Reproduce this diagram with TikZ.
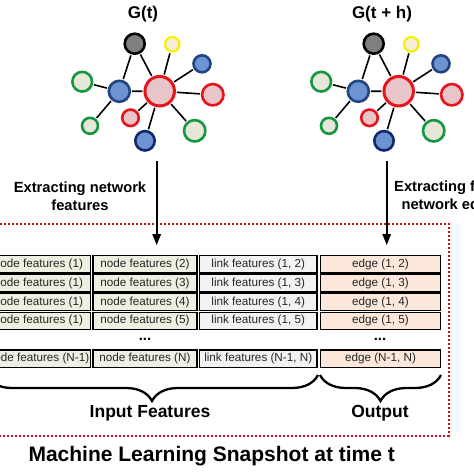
\documentclass[tikz,border=0pt]{standalone}
\usepackage{fontspec}
\setmainfont{Liberation Sans}
\usetikzlibrary{arrows.meta,decorations.pathreplacing}
\definecolor{cgray}{HTML}{7F7F7F}
\definecolor{cyel}{HTML}{F5F000}
\definecolor{cyelfill}{HTML}{F4EEDB}
\definecolor{cblue}{HTML}{6D93D3}
\definecolor{cblueb}{HTML}{23457F}
\definecolor{cnavy}{HTML}{10296A}
\definecolor{cgreen}{HTML}{14973F}
\definecolor{cgreenfill}{HTML}{E6E7D9}
\definecolor{cred}{HTML}{E8141C}
\definecolor{credfill}{HTML}{E8C5C9}
\definecolor{cnodecell}{HTML}{EDF0E1}
\definecolor{clinkcell}{HTML}{F2F2F2}
\definecolor{cedgecell}{HTML}{FBE8DB}
\definecolor{ctext}{HTML}{262626}
\definecolor{cdot}{HTML}{CC1019}
\tikzset{
  gnode/.style={circle, line width=2.6pt, inner sep=0pt, minimum size=#1},
  bnode/.style={gnode=#1, fill=cblue, draw=cblueb},
  grnode/.style={gnode=#1, fill=cgreenfill, draw=cgreen},
  rnode/.style={gnode=#1, fill=credfill, draw=cred},
  edgeline/.style={line width=1.6pt, black, shorten <=1pt, shorten >=1pt},
  cell/.style={draw=black, line width=1.4pt, inner sep=0pt, minimum height=17.4pt,
    font=\fontsize{11.7}{12}\selectfont, text=ctext},
  ncell/.style={cell, fill=cnodecell},
  lcell/.style={cell, fill=clinkcell},
  ecell/.style={cell, fill=cedgecell},
  wa/.style={minimum width=103.6pt},
  wb/.style={minimum width=103.8pt},
  wc/.style={minimum width=117.1pt},
  wd/.style={minimum width=119.6pt},
  bigarrow/.style={line width=1.6pt, -{Triangle[width=8.5pt,length=11pt]}},
  bracestyle/.style={line width=2.3pt, decorate, decoration={brace, amplitude=26pt}},
  boldlabel/.style={font=\fontsize{14.7}{18}\selectfont\bfseries, align=center},
  titlelabel/.style={font=\fontsize{17}{20}\selectfont\bfseries},
  dotslabel/.style={font=\fontsize{15}{15}\selectfont\bfseries},
}
\newcommand\mygraph[1]{%
  \node[gnode=20, fill=cgray, draw=black] (#1g) at (134.7,43.7) {};
  \node[gnode=14.5, fill=cyelfill, draw=cyel, line width=2.2pt] (#1y) at (172.3,44.3) {};
  \node[bnode=17] (#1btr) at (202,63.8) {};
  \node[grnode=19.7] (#1gl) at (82.2,81.7) {};
  \node[bnode=21] (#1bm) at (119.3,91.3) {};
  \node[rnode=29.5, line width=3pt] (#1rc) at (159.7,91.2) {};
  \node[rnode=21.4] (#1rr) at (212.8,94.7) {};
  \node[rnode=16.5] (#1rs) at (130.5,117.8) {};
  \node[grnode=16] (#1gs) at (90,125.8) {};
  \node[grnode=21.4] (#1gbr) at (194.7,130.8) {};
  \node[bnode=19.4, draw=cnavy] (#1bb) at (145,140.8) {};
  \draw[edgeline] (#1g) -- (#1bm);
  \draw[edgeline] (#1g) -- (#1rc);
  \draw[edgeline] (#1y) -- (#1rc);
  \draw[edgeline] (#1btr) -- (#1rc);
  \draw[edgeline] (#1rr) -- (#1rc);
  \draw[edgeline] (#1gbr) -- (#1rc);
  \draw[edgeline] (#1bb) -- (#1rc);
  \draw[edgeline] (#1rs) -- (#1rc);
  \draw[edgeline] (#1bm) -- (#1rc);
  \draw[edgeline] (#1gl) -- (#1bm);
  \draw[edgeline] (#1gs) -- (#1bm);
}
\begin{document}
\begin{tikzpicture}[x=1pt,y=-1pt]
\useasboundingbox (0,0) rectangle (474,474);
\fill[white] (0,0) rectangle (474,474);
\clip (0,0) rectangle (474,474);

% titles
\node[titlelabel] (t1) at (143,14) {G(t)};
\node[titlelabel] (t2) at (382,14) {G(t + h)};

% graphs
\mygraph{a}
\begin{scope}[xshift=239pt]
\mygraph{b}
\end{scope}

% red dotted box
\draw[cdot, line width=2pt, dash pattern=on 2.4pt off 1.6pt] (-5,223.5) rectangle (448.5,435.5);

% labels
\node[boldlabel] (l1) at (80,196) {Extracting network\\features};
\node[boldlabel] (l2) at (453,197) {Extracting future\\network edges};

% table rows
\node[ncell, wa] (r1c1) at (38.5,264.2) {node features (1)};
\node[ncell, wb] (r1c2) at (144.9,264.2) {node features (2)};
\node[lcell, wc] (r1c3) at (258.25,264.2) {link features (1, 2)};
\node[ecell, wd] (r1c4) at (380.5,264.2) {edge (1, 2)};

\node[ncell, wa] (r2c1) at (38.5,283.1) {node features (1)};
\node[ncell, wb] (r2c2) at (144.9,283.1) {node features (3)};
\node[lcell, wc] (r2c3) at (258.25,283.1) {link features (1, 3)};
\node[ecell, wd] (r2c4) at (380.5,283.1) {edge (1, 3)};

\node[ncell, wa] (r3c1) at (38.5,302) {node features (1)};
\node[ncell, wb] (r3c2) at (144.9,302) {node features (4)};
\node[lcell, wc] (r3c3) at (258.25,302) {link features (1, 4)};
\node[ecell, wd] (r3c4) at (380.5,302) {edge (1, 4)};

\node[ncell, wa] (r4c1) at (38.5,320.9) {node features (1)};
\node[ncell, wb] (r4c2) at (144.9,320.9) {node features (5)};
\node[lcell, wc] (r4c3) at (258.25,320.9) {link features (1, 5)};
\node[ecell, wd] (r4c4) at (380.5,320.9) {edge (1, 5)};

\node[dotslabel] (d1) at (145,339) {...};
\node[dotslabel] (d2) at (380,339) {...};

\node[ncell, wa] (r5c1) at (38.5,358.8) {node features (N-1)};
\node[ncell, wb] (r5c2) at (144.9,358.8) {node features (N)};
\node[lcell, wc] (r5c3) at (258.25,358.8) {link features (N-1, N)};
\node[ecell, wd] (r5c4) at (380.5,358.8) {edge (N-1, N)};

% arrows
\coordinate (a1s) at (156.7,161);
\coordinate (a1e) at (156.7,245);
\coordinate (a2s) at (386.7,161);
\coordinate (a2e) at (386.7,245);
\draw[bigarrow] (a1s) -- (a1e);
\draw[bigarrow] (a2s) -- (a2e);

% braces
\coordinate (b1r) at (318,375);
\coordinate (b1l) at (-14,375);
\coordinate (b2r) at (441,375);
\coordinate (b2l) at (320,375);
\draw[bracestyle] (b1r) -- (b1l);
\draw[bracestyle] (b2r) -- (b2l);

\node[font=\fontsize{17.5}{20}\selectfont\bfseries] (inp) at (150,413) {Input Features};
\node[font=\fontsize{17.5}{20}\selectfont\bfseries] (outp) at (380,413) {Output};

\node[font=\fontsize{21}{24}\selectfont\bfseries] (caption) at (211.7,456) {Machine Learning Snapshot at time t};
\end{tikzpicture}
\end{document}
